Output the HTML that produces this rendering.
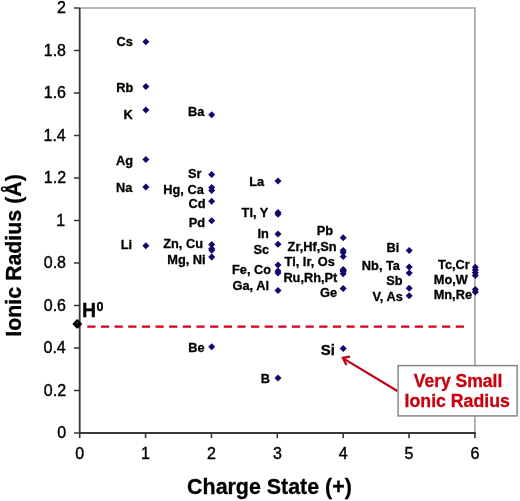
<!DOCTYPE html><html><head><meta charset="utf-8"><style>html,body{margin:0;padding:0;background:#fff;}svg{display:block;}text{font-family:"Liberation Sans",Arial,sans-serif;}</style></head><body>
<svg width="520" height="501" viewBox="0 0 520 501">
<rect width="520" height="501" fill="#fff"/>
<path d="M79.70 8H474.90V433" fill="none" stroke="#a0a0a0" stroke-width="1.6"/>
<line x1="87.3" y1="326.6" x2="464.0" y2="326.6" stroke="#d4001e" stroke-width="2.3" stroke-dasharray="8.2 5.445"/>
<path d="M74 433.00H79.70M74 390.50H79.70M74 348.00H79.70M74 305.50H79.70M74 263.00H79.70M74 220.50H79.70M74 178.00H79.70M74 135.50H79.70M74 93.00H79.70M74 50.50H79.70M74 8.00H79.70M79.70 433V438.3M145.57 433V438.3M211.43 433V438.3M277.30 433V438.3M343.17 433V438.3M409.03 433V438.3M474.90 433V438.3" stroke="#383838" stroke-width="1.6" fill="none"/>
<path d="M79.70 8V433H475.70" stroke="#383838" stroke-width="1.8" fill="none"/>
<text x="57.23" y="438.00" font-size="16.0" fill="#000" stroke="#000" stroke-width="0.4">0</text>
<text x="43.86" y="395.50" font-size="16.0" fill="#000" stroke="#000" stroke-width="0.4">0.2</text>
<text x="43.52" y="353.00" font-size="16.0" fill="#000" stroke="#000" stroke-width="0.4">0.4</text>
<text x="43.76" y="310.50" font-size="16.0" fill="#000" stroke="#000" stroke-width="0.4">0.6</text>
<text x="43.75" y="268.00" font-size="16.0" fill="#000" stroke="#000" stroke-width="0.4">0.8</text>
<text x="56.14" y="225.50" font-size="16.0" fill="#000" stroke="#000" stroke-width="0.4">1</text>
<text x="43.86" y="183.00" font-size="16.0" fill="#000" stroke="#000" stroke-width="0.4">1.2</text>
<text x="43.52" y="140.50" font-size="16.0" fill="#000" stroke="#000" stroke-width="0.4">1.4</text>
<text x="43.76" y="98.00" font-size="16.0" fill="#000" stroke="#000" stroke-width="0.4">1.6</text>
<text x="43.75" y="55.50" font-size="16.0" fill="#000" stroke="#000" stroke-width="0.4">1.8</text>
<text x="57.10" y="13.00" font-size="16.0" fill="#000" stroke="#000" stroke-width="0.4">2</text>
<text x="75.25" y="459.1" font-size="16.0" fill="#000" stroke="#000" stroke-width="0.4">0</text>
<text x="140.90" y="459.1" font-size="16.0" fill="#000" stroke="#000" stroke-width="0.4">1</text>
<text x="206.99" y="459.1" font-size="16.0" fill="#000" stroke="#000" stroke-width="0.4">2</text>
<text x="272.90" y="459.1" font-size="16.0" fill="#000" stroke="#000" stroke-width="0.4">3</text>
<text x="338.77" y="459.1" font-size="16.0" fill="#000" stroke="#000" stroke-width="0.4">4</text>
<text x="404.60" y="459.1" font-size="16.0" fill="#000" stroke="#000" stroke-width="0.4">5</text>
<text x="470.40" y="459.1" font-size="16.0" fill="#000" stroke="#000" stroke-width="0.4">6</text>
<text transform="translate(187.12 494.30) scale(1 1.04)" font-size="21.41" font-weight="bold" fill="#000" stroke="#000" stroke-width="0.3">Charge State (+)</text>
<text transform="translate(21.00 336.73) rotate(-90) scale(1 1.04)" font-size="21.36" font-weight="bold" stroke="#000" stroke-width="0.3">Ionic Radius (Å)</text>
<path d="M145.90 38.30L149.40 41.80L145.90 45.30L142.40 41.80Z" fill="#10086c"/>
<path d="M145.90 83.10L149.40 86.60L145.90 90.10L142.40 86.60Z" fill="#10086c"/>
<path d="M145.90 106.50L149.40 110.00L145.90 113.50L142.40 110.00Z" fill="#10086c"/>
<path d="M145.90 156.00L149.40 159.50L145.90 163.00L142.40 159.50Z" fill="#10086c"/>
<path d="M145.90 183.50L149.40 187.00L145.90 190.50L142.40 187.00Z" fill="#10086c"/>
<path d="M145.90 242.20L149.40 245.70L145.90 249.20L142.40 245.70Z" fill="#10086c"/>
<path d="M211.70 111.20L215.20 114.70L211.70 118.20L208.20 114.70Z" fill="#10086c"/>
<path d="M211.70 170.90L215.20 174.40L211.70 177.90L208.20 174.40Z" fill="#10086c"/>
<path d="M211.70 183.90L215.20 187.40L211.70 190.90L208.20 187.40Z" fill="#10086c"/>
<path d="M211.70 187.10L215.20 190.60L211.70 194.10L208.20 190.60Z" fill="#10086c"/>
<path d="M211.70 197.70L215.20 201.20L211.70 204.70L208.20 201.20Z" fill="#10086c"/>
<path d="M211.70 217.30L215.20 220.80L211.70 224.30L208.20 220.80Z" fill="#10086c"/>
<path d="M211.70 241.10L215.20 244.60L211.70 248.10L208.20 244.60Z" fill="#10086c"/>
<path d="M211.70 245.20L215.20 248.70L211.70 252.20L208.20 248.70Z" fill="#10086c"/>
<path d="M211.70 246.80L215.20 250.30L211.70 253.80L208.20 250.30Z" fill="#10086c"/>
<path d="M211.70 253.40L215.20 256.90L211.70 260.40L208.20 256.90Z" fill="#10086c"/>
<path d="M211.70 343.30L215.20 346.80L211.70 350.30L208.20 346.80Z" fill="#10086c"/>
<path d="M278.00 177.50L281.50 181.00L278.00 184.50L274.50 181.00Z" fill="#10086c"/>
<path d="M278.00 209.00L281.50 212.50L278.00 216.00L274.50 212.50Z" fill="#10086c"/>
<path d="M278.00 210.80L281.50 214.30L278.00 217.80L274.50 214.30Z" fill="#10086c"/>
<path d="M278.00 230.50L281.50 234.00L278.00 237.50L274.50 234.00Z" fill="#10086c"/>
<path d="M278.00 240.70L281.50 244.20L278.00 247.70L274.50 244.20Z" fill="#10086c"/>
<path d="M278.00 261.50L281.50 265.00L278.00 268.50L274.50 265.00Z" fill="#10086c"/>
<path d="M278.00 267.50L281.50 271.00L278.00 274.50L274.50 271.00Z" fill="#10086c"/>
<path d="M278.00 269.50L281.50 273.00L278.00 276.50L274.50 273.00Z" fill="#10086c"/>
<path d="M278.00 287.10L281.50 290.60L278.00 294.10L274.50 290.60Z" fill="#10086c"/>
<path d="M278.00 374.60L281.50 378.10L278.00 381.60L274.50 378.10Z" fill="#10086c"/>
<path d="M343.20 234.20L346.70 237.70L343.20 241.20L339.70 237.70Z" fill="#10086c"/>
<path d="M343.20 246.90L346.70 250.40L343.20 253.90L339.70 250.40Z" fill="#10086c"/>
<path d="M343.20 249.00L346.70 252.50L343.20 256.00L339.70 252.50Z" fill="#10086c"/>
<path d="M343.20 253.10L346.70 256.60L343.20 260.10L339.70 256.60Z" fill="#10086c"/>
<path d="M343.20 265.90L346.70 269.40L343.20 272.90L339.70 269.40Z" fill="#10086c"/>
<path d="M343.20 266.90L346.70 270.40L343.20 273.90L339.70 270.40Z" fill="#10086c"/>
<path d="M343.20 268.00L346.70 271.50L343.20 275.00L339.70 271.50Z" fill="#10086c"/>
<path d="M343.20 270.30L346.70 273.80L343.20 277.30L339.70 273.80Z" fill="#10086c"/>
<path d="M343.20 285.10L346.70 288.60L343.20 292.10L339.70 288.60Z" fill="#10086c"/>
<path d="M343.20 344.90L346.70 348.40L343.20 351.90L339.70 348.40Z" fill="#10086c"/>
<path d="M409.20 246.90L412.70 250.40L409.20 253.90L405.70 250.40Z" fill="#10086c"/>
<path d="M409.20 263.50L412.70 267.00L409.20 270.50L405.70 267.00Z" fill="#10086c"/>
<path d="M409.20 269.60L412.70 273.10L409.20 276.60L405.70 273.10Z" fill="#10086c"/>
<path d="M409.20 284.80L412.70 288.30L409.20 291.80L405.70 288.30Z" fill="#10086c"/>
<path d="M409.20 292.30L412.70 295.80L409.20 299.30L405.70 295.80Z" fill="#10086c"/>
<path d="M475.30 263.70L478.80 267.20L475.30 270.70L471.80 267.20Z" fill="#10086c"/>
<path d="M475.30 266.50L478.80 270.00L475.30 273.50L471.80 270.00Z" fill="#10086c"/>
<path d="M475.30 269.30L478.80 272.80L475.30 276.30L471.80 272.80Z" fill="#10086c"/>
<path d="M475.30 272.10L478.80 275.60L475.30 279.10L471.80 275.60Z" fill="#10086c"/>
<path d="M475.30 285.90L478.80 289.40L475.30 292.90L471.80 289.40Z" fill="#10086c"/>
<path d="M475.30 288.60L478.80 292.10L475.30 295.60L471.80 292.10Z" fill="#10086c"/>
<text transform="translate(116.52 46.30) scale(1 1.04)" font-size="12.80" font-weight="bold" fill="#000" stroke="#000" stroke-width="0.3">Cs</text>
<text transform="translate(116.30 92.00) scale(1 1.04)" font-size="12.80" font-weight="bold" fill="#000" stroke="#000" stroke-width="0.3">Rb</text>
<text transform="translate(123.61 118.70) scale(1 1.04)" font-size="12.80" font-weight="bold" fill="#000" stroke="#000" stroke-width="0.3">K</text>
<text transform="translate(115.99 164.50) scale(1 1.04)" font-size="12.80" font-weight="bold" fill="#000" stroke="#000" stroke-width="0.3">Ag</text>
<text transform="translate(116.05 191.50) scale(1 1.04)" font-size="12.80" font-weight="bold" fill="#000" stroke="#000" stroke-width="0.3">Na</text>
<text transform="translate(120.69 248.70) scale(1 1.04)" font-size="12.80" font-weight="bold" fill="#000" stroke="#000" stroke-width="0.3">Li</text>
<text transform="translate(187.90 115.70) scale(1 1.04)" font-size="12.80" font-weight="bold" fill="#000" stroke="#000" stroke-width="0.3">Ba</text>
<text transform="translate(187.95 178.20) scale(1 1.04)" font-size="12.80" font-weight="bold" fill="#000" stroke="#000" stroke-width="0.3">Sr</text>
<text transform="translate(163.26 193.50) scale(1 1.04)" font-size="12.80" font-weight="bold" fill="#000" stroke="#000" stroke-width="0.3">Hg, Ca</text>
<text transform="translate(188.53 208.20) scale(1 1.04)" font-size="12.80" font-weight="bold" fill="#000" stroke="#000" stroke-width="0.3">Cd</text>
<text transform="translate(188.71 226.80) scale(1 1.04)" font-size="12.80" font-weight="bold" fill="#000" stroke="#000" stroke-width="0.3">Pd</text>
<text transform="translate(163.17 248.00) scale(1 1.04)" font-size="12.80" font-weight="bold" fill="#000" stroke="#000" stroke-width="0.3">Zn, Cu</text>
<text transform="translate(167.28 263.80) scale(1 1.04)" font-size="12.80" font-weight="bold" fill="#000" stroke="#000" stroke-width="0.3">Mg, Ni</text>
<text transform="translate(188.26 352.30) scale(1 1.04)" font-size="12.80" font-weight="bold" fill="#000" stroke="#000" stroke-width="0.3">Be</text>
<text transform="translate(249.31 185.80) scale(1 1.04)" font-size="12.80" font-weight="bold" fill="#000" stroke="#000" stroke-width="0.3">La</text>
<text transform="translate(241.59 217.30) scale(1 1.04)" font-size="12.80" font-weight="bold" fill="#000" stroke="#000" stroke-width="0.3">Tl, Y</text>
<text transform="translate(257.38 238.40) scale(1 1.04)" font-size="12.80" font-weight="bold" fill="#000" stroke="#000" stroke-width="0.3">In</text>
<text transform="translate(253.52 253.50) scale(1 1.04)" font-size="12.80" font-weight="bold" fill="#000" stroke="#000" stroke-width="0.3">Sc</text>
<text transform="translate(232.01 274.30) scale(1 1.04)" font-size="12.80" font-weight="bold" fill="#000" stroke="#000" stroke-width="0.3">Fe, Co</text>
<text transform="translate(232.48 289.50) scale(1 1.04)" font-size="12.80" font-weight="bold" fill="#000" stroke="#000" stroke-width="0.3">Ga, Al</text>
<text transform="translate(260.84 383.10) scale(1 1.04)" font-size="12.80" font-weight="bold" fill="#000" stroke="#000" stroke-width="0.3">B</text>
<text transform="translate(316.75 235.20) scale(1 1.04)" font-size="12.80" font-weight="bold" fill="#000" stroke="#000" stroke-width="0.3">Pb</text>
<text transform="translate(287.62 250.70) scale(1 1.04)" font-size="12.80" font-weight="bold" fill="#000" stroke="#000" stroke-width="0.3">Zr,Hf,Sn</text>
<text transform="translate(284.60 265.50) scale(1 1.04)" font-size="12.80" font-weight="bold" fill="#000" stroke="#000" stroke-width="0.3">Ti, Ir, Os</text>
<text transform="translate(283.38 281.50) scale(1 1.04)" font-size="12.80" font-weight="bold" fill="#000" stroke="#000" stroke-width="0.3">Ru,Rh,Pt</text>
<text transform="translate(320.12 296.70) scale(1 1.04)" font-size="12.80" font-weight="bold" fill="#000" stroke="#000" stroke-width="0.3">Ge</text>
<text transform="translate(320.77 354.90) scale(1 1.04)" font-size="14.91" font-weight="bold" fill="#000" stroke="#000" stroke-width="0.3">Si</text>
<text transform="translate(386.48 252.30) scale(1 1.04)" font-size="12.80" font-weight="bold" fill="#000" stroke="#000" stroke-width="0.3">Bi</text>
<text transform="translate(361.85 270.00) scale(1 1.04)" font-size="12.80" font-weight="bold" fill="#000" stroke="#000" stroke-width="0.3">Nb, Ta</text>
<text transform="translate(386.25 285.10) scale(1 1.04)" font-size="12.80" font-weight="bold" fill="#000" stroke="#000" stroke-width="0.3">Sb</text>
<text transform="translate(372.44 301.00) scale(1 1.04)" font-size="12.80" font-weight="bold" fill="#000" stroke="#000" stroke-width="0.3">V, As</text>
<text transform="translate(438.09 268.60) scale(1 1.04)" font-size="12.80" font-weight="bold" fill="#000" stroke="#000" stroke-width="0.3">Tc,Cr</text>
<text transform="translate(433.77 284.10) scale(1 1.04)" font-size="12.80" font-weight="bold" fill="#000" stroke="#000" stroke-width="0.3">Mo,W</text>
<text transform="translate(433.64 299.10) scale(1 1.04)" font-size="12.80" font-weight="bold" fill="#000" stroke="#000" stroke-width="0.3">Mn,Re</text>
<path d="M77.3 320.3L80.9 323.9L77.3 327.5L73.7 323.9Z" fill="#000" stroke="#000" stroke-width="2.1" stroke-linejoin="round"/>
<circle cx="77.1" cy="322.7" r="0.8" fill="#777"/>
<text transform="translate(82.10 317.35) scale(1 1.060)" font-size="19.47" font-weight="bold" fill="#000" stroke="#000" stroke-width="0.3">H</text>
<text transform="translate(96.40 311.35) scale(1 1.081)" font-size="12.53" font-weight="bold" fill="#000" stroke="#000" stroke-width="0.3">0</text>
<path d="M397.4 391.0L343.2 358.3" stroke="#c00018" stroke-width="2.1" fill="none"/>
<path d="M350.0 356.7L342.9 357.8L346.4 365.0" stroke="#c00018" stroke-width="2.2" fill="none" stroke-linejoin="miter" stroke-linecap="butt"/>
<rect x="398.1" y="365.6" width="119.0" height="50.3" fill="#fff" stroke="#888" stroke-width="1.5"/>
<text transform="translate(413.68 386.80) scale(1 1.04)" font-size="17.51" font-weight="bold" fill="#c8000f" stroke="#c8000f" stroke-width="0.3">Very Small</text>
<text transform="translate(404.61 407.30) scale(1 1.04)" font-size="17.71" font-weight="bold" fill="#c8000f" stroke="#c8000f" stroke-width="0.3">Ionic Radius</text>
</svg></body></html>
